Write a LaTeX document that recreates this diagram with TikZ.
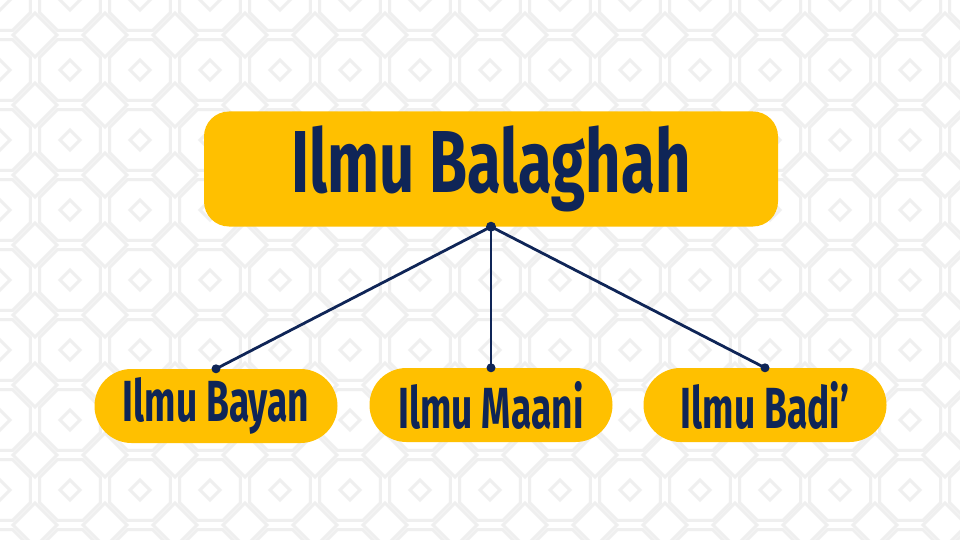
\documentclass[tikz,border=0pt]{standalone}
\usepackage{fontspec}
\setmainfont{Fira Sans}
\usepackage{tikz}
\usetikzlibrary{positioning}

\definecolor{boxyellow}{HTML}{FFC000}
\definecolor{inknavy}{HTML}{0F2557}
\definecolor{patterngray}{HTML}{EFEFEF}

\tikzset{
  topbox/.style={fill=boxyellow, rounded corners=25pt, minimum width=574pt,
    minimum height=115pt, inner sep=0pt, text=inknavy,
    font=\fontsize{88}{88}\selectfont\bfseries},
  subbox/.style={fill=boxyellow, rounded corners=37pt, minimum width=243pt,
    minimum height=74pt, inner sep=0pt, text=inknavy,
    font=\fontsize{58}{58}\selectfont\bfseries},
  link/.style={draw=inknavy, line width=2.8pt},
  joint/.style={fill=inknavy}
}

\begin{document}
\begin{tikzpicture}[x=1pt,y=-1pt]
		\useasboundingbox (0,0) rectangle (960,540);
		\fill[white] (0,0) rectangle (960,540);

		% background lattice
		\begin{scope}[draw=patterngray, line width=3pt]
			\clip (0,0) rectangle (960,540);
			\foreach \i in {0,...,14}{
				\foreach \j in {0,...,8}{
					\draw (70*\i,70*\j) +(22.5:33) -- +(67.5:33) -- +(112.5:33) -- +(157.5:33)
						-- +(202.5:33) -- +(247.5:33) -- +(292.5:33) -- +(337.5:33) -- cycle;
					\draw (70*\i,70*\j) +(0:10) -- +(90:10) -- +(180:10) -- +(270:10) -- cycle;
					\draw (70*\i+35,70*\j+35) +(0:22) -- +(90:22) -- +(180:22) -- +(270:22) -- cycle;
				}
			}
		\end{scope}

		% boxes
		\node[topbox] (balaghah) at (491,169) {\scalebox{0.7}[1]{Ilmu Balaghah}};
		\node[subbox] (bayan) at (216,406) {\scalebox{0.64}[1]{Ilmu Bayan}};
		\node[subbox] (maani) at (491,405) {\scalebox{0.64}[1]{Ilmu Maani}};
		\node[subbox] (badi) at (765,405) {\scalebox{0.64}[1]{Ilmu Badi’}};

		% connectors
		\foreach \child in {bayan,maani,badi}{
			\draw[link] (balaghah.south) -- (\child.north);
			\fill[joint] (\child.north) circle (4.5);
		}
		\fill[joint] (balaghah.south) circle (5);
	\end{tikzpicture}
\end{document}
